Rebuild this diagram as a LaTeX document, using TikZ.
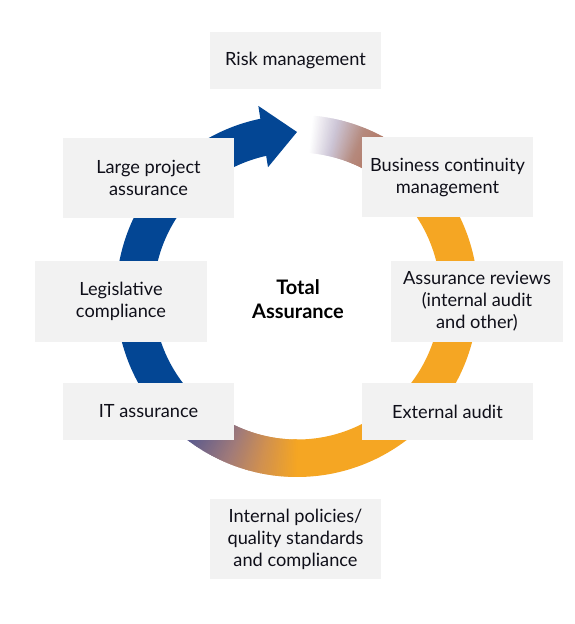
\documentclass[tikz,border=0pt]{standalone}
\usepackage{fontspec}
\setmainfont{Lato}
\usetikzlibrary{calc}
\definecolor{ringblue}{RGB}{3,70,148}
\definecolor{ringorange}{RGB}{245,166,35}
\definecolor{boxgray}{RGB}{242,242,242}
\definecolor{txt}{RGB}{15,15,25}
\definecolor{gA}{RGB}{205,198,215}
\definecolor{gB}{RGB}{181,138,126}
\definecolor{gC}{RGB}{178,117,96}
\definecolor{gD}{RGB}{208,144,80}
\definecolor{gE}{RGB}{160,122,122}
\definecolor{gF}{RGB}{90,90,142}
\newcommand\gradarc[5]{%
  \foreach \i in {1,...,#5}{%
    \pgfmathsetmacro\pa{#1+(#2-#1)*(\i-1)/#5}%
    \pgfmathsetmacro\pb{#1+(#2-#1)*\i/#5+0.4*sign(#2-#1)}%
    \pgfmathsetmacro\pc{100*(\i-0.5)/#5}%
    \colorlet{gtmp}{#4!\pc!#3}%
    \draw[gtmp, ringline] (ctr) ++(\pa:162.25) arc[start angle=\pa, end angle=\pb, radius=162.25];
  }}
\begin{document}
\begin{tikzpicture}[x=1pt,y=1pt,
  ringline/.style={line width=37.5pt, line cap=butt},
  infobox/.style={fill=boxgray, draw=none, inner sep=0pt, minimum width=171pt, minimum height=80pt,
     align=center, text=txt, font=\fontsize{18.2}{22}\selectfont},
  shortbox/.style={infobox, minimum height=57pt},
  centertext/.style={align=center, text=black, font=\fontsize{20}{23.5}\selectfont\bfseries}]
\useasboundingbox (0,0) rectangle (575,624);
\coordinate (ctr) at (297,328);
% ring
\draw[ringorange, ringline] (ctr) ++(-91:162.25) arc[start angle=-91, end angle=46, radius=162.25];
\gradarc{85}{77}{white}{gA}{16}
\gradarc{77}{68}{gA}{gB}{18}
\gradarc{68}{59}{gB}{gC}{18}
\gradarc{59}{45}{gC}{ringorange}{20}
\gradarc{270}{258}{ringorange}{gD}{20}
\gradarc{258}{247}{gD}{gE}{20}
\gradarc{247}{233}{gE}{gF}{20}
\gradarc{233}{219}{gF}{ringblue}{20}
\draw[ringblue, ringline] (ctr) ++(219.5:162.25) arc[start angle=219.5, end angle=100.6, radius=162.25];
\fill[ringblue] ($(ctr)+(101.5:194)$) -- ($(ctr)+(90:164)$) -- ($(ctr)+(102.7:132)$) -- cycle;
% boxes
\node[shortbox] (risk) at (295.5,563.5) {Risk management};
\node[infobox] (large) at (148.5,446) {Large project\\assurance};
\node[infobox] (bcm) at (447.5,447) {Business continuity\\management};
\node[infobox, minimum width=172pt, minimum height=81pt] (leg) at (121,322.5) {Legislative\\compliance};
\node[infobox, minimum width=172pt, minimum height=81pt] (rev) at (477,322.5) {Assurance reviews\\(internal audit\\and other)};
\node[shortbox] (it) at (148.5,212.5) {IT assurance};
\node[shortbox] (ext) at (447.5,212.5) {External audit};
\node[infobox] (pol) at (295.5,85) {Internal policies/\\quality standards\\and compliance};
\node[centertext] (total) at (298,325) {Total\\Assurance};
\end{tikzpicture}
\end{document}
